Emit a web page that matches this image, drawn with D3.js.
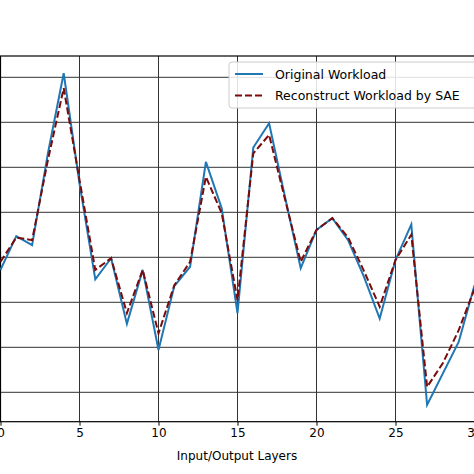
<!DOCTYPE html>
<html><head><meta charset="utf-8">
<script src="https://cdn.jsdelivr.net/npm/d3@7"></script>
<style>body{margin:0;background:#fff}svg{display:block}</style>
</head><body>
<script>
const layers = d3.range(0, 31);
const original = [2.72,3.47,3.27,5.31,7.09,4.64,2.51,2.98,1.52,2.72,0.94,2.36,2.79,5.12,4.09,1.76,5.44,5.98,4.35,2.76,3.61,3.87,3.38,2.57,1.64,2.94,3.73,-0.28,0.42,1.12,2.38];
const reconstruct = [2.90,3.44,3.38,5.16,6.76,4.72,2.72,2.98,1.76,2.72,1.31,2.38,2.90,4.79,3.98,2.05,5.31,5.72,4.30,2.90,3.61,3.87,3.44,2.70,1.90,2.94,3.50,0.12,0.65,1.38,2.30];
const xTicks = [0,5,10,15,20,25,30];
const yGrid = [0,1,2,3,4,5,6,7];
const seriesNames = ["Original Workload","Reconstruct Workload by SAE"];

(function(){
const W=474,H=474;
const svg=d3.select("body").append("svg").attr("width",W).attr("height",H);
const x=d3.scaleLinear().domain([0,30]).range([0.5,474.5]);
const y=d3.scaleLinear().domain([0,7]).range([392.3,77.3]);
const pTop=56, pBottom=421.7, pLeft=0.5, pRight=490;

const g=svg.append("g");
g.selectAll(".hg").data(yGrid).join("line").attr("x1",pLeft).attr("x2",pRight)
 .attr("y1",d=>y(d)).attr("y2",d=>y(d)).attr("stroke","#333").attr("stroke-width",1);
g.selectAll(".vg").data(xTicks).join("line").attr("y1",pTop).attr("y2",pBottom)
 .attr("x1",d=>x(d)).attr("x2",d=>x(d)).attr("stroke","#333").attr("stroke-width",1);
g.append("rect").attr("x",pLeft).attr("y",pTop).attr("width",pRight-pLeft).attr("height",pBottom-pTop)
 .attr("fill","none").attr("stroke","#000").attr("stroke-width",1.2);

const xAxis=d3.axisBottom(x).tickValues(xTicks).tickSize(4).tickPadding(3);
const ax=svg.append("g").attr("transform",`translate(0,${pBottom})`).call(xAxis);
ax.select(".domain").remove();
ax.selectAll("text").attr("font-family","DejaVu Sans").attr("font-size",12).attr("fill","#000");

const line=d3.line().x((d,i)=>x(layers[i])).y(d=>y(d));
svg.append("path").datum(original).attr("d",line).attr("fill","none").attr("stroke","#1f77b4").attr("stroke-width",2);
svg.append("path").datum(reconstruct).attr("d",line).attr("fill","none").attr("stroke","#7b0a0a").attr("stroke-width",2).attr("stroke-dasharray","7,3");

svg.append("text").attr("x",237).attr("y",460).attr("text-anchor","middle")
 .attr("font-family","DejaVu Sans").attr("font-size",12).text("Input/Output Layers");

const lg=svg.append("g");
lg.append("rect").attr("x",229).attr("y",62).attr("width",260).attr("height",46).attr("rx",3)
 .attr("fill","#fff").attr("fill-opacity",0.85).attr("stroke","#ccc");
[0,1].forEach(i=>{
  const yy=74+i*21.5;
  lg.append("line").attr("x1",235).attr("x2",263).attr("y1",yy).attr("y2",yy)
    .attr("stroke",i?"#7b0a0a":"#1f77b4").attr("stroke-width",2).attr("stroke-dasharray",i?"7,3":null);
  lg.append("text").attr("x",275).attr("y",yy+4.5).attr("font-family","DejaVu Sans").attr("font-size",12.5).text(seriesNames[i]);
});
})();
</script>
</body></html>
